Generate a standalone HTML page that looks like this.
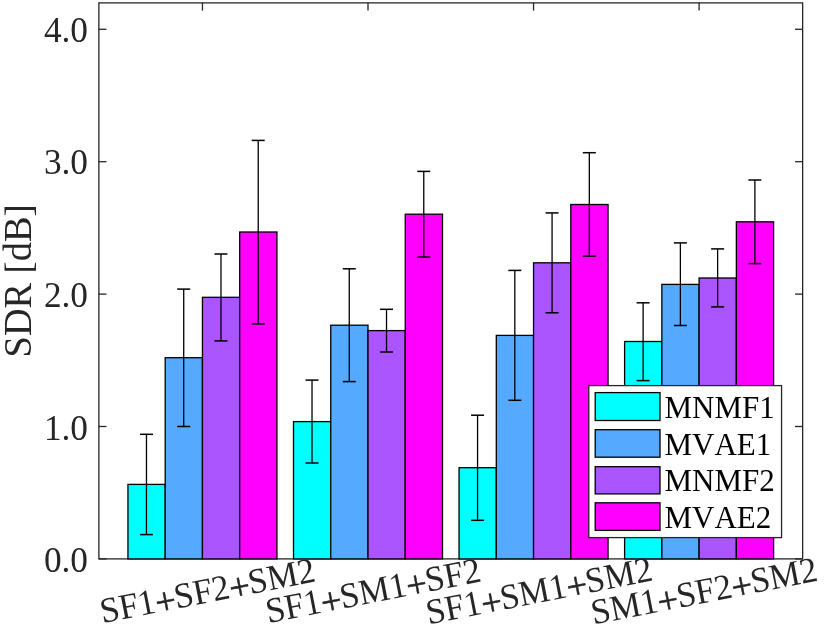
<!DOCTYPE html>
<html lang="en"><head><meta charset="utf-8"><title>SDR bar chart</title>
<style>
html,body{margin:0;padding:0;background:#fff;}
body{width:830px;height:625px;overflow:hidden;}
svg{display:block;}
text{font-family:"Liberation Serif",serif;font-kerning:none;font-variant-ligatures:none;}
.ax{stroke:#262626;stroke-width:1.3;fill:none;}
.bar{stroke:#000;stroke-width:1.3;}
.eb{stroke:#000;stroke-width:1.3;fill:none;}
.cap{stroke:#000;stroke-width:1.5;fill:none;}
.tl{fill:#262626;}
.pl{stroke:#262626;stroke-width:0.5;}
</style></head><body>
<svg width="830" height="625" viewBox="0 0 830 625">
<rect x="0" y="0" width="830" height="625" fill="#fff"/>
<g class="ax">
<rect x="98.87" y="2.88" width="703.78" height="556.02"/>
<line x1="98.87" y1="558.90" x2="106.47" y2="558.90"/>
<line x1="802.65" y1="558.90" x2="795.05" y2="558.90"/>
<line x1="98.87" y1="426.50" x2="106.47" y2="426.50"/>
<line x1="802.65" y1="426.50" x2="795.05" y2="426.50"/>
<line x1="98.87" y1="294.10" x2="106.47" y2="294.10"/>
<line x1="802.65" y1="294.10" x2="795.05" y2="294.10"/>
<line x1="98.87" y1="161.70" x2="106.47" y2="161.70"/>
<line x1="802.65" y1="161.70" x2="795.05" y2="161.70"/>
<line x1="98.87" y1="29.30" x2="106.47" y2="29.30"/>
<line x1="802.65" y1="29.30" x2="795.05" y2="29.30"/>
<line x1="202.45" y1="2.88" x2="202.45" y2="10.58"/>
<line x1="202.45" y1="558.90" x2="202.45" y2="551.30"/>
<line x1="368.00" y1="2.88" x2="368.00" y2="10.58"/>
<line x1="368.00" y1="558.90" x2="368.00" y2="551.30"/>
<line x1="533.55" y1="2.88" x2="533.55" y2="10.58"/>
<line x1="533.55" y1="558.90" x2="533.55" y2="551.30"/>
<line x1="699.10" y1="2.88" x2="699.10" y2="10.58"/>
<line x1="699.10" y1="558.90" x2="699.10" y2="551.30"/>
</g>
<g>
<rect class="bar" x="127.95" y="484.40" width="37.25" height="74.50" fill="#00FFFF"/>
<rect class="bar" x="165.20" y="357.70" width="37.25" height="201.20" fill="#55AAFF"/>
<rect class="bar" x="202.45" y="297.30" width="37.25" height="261.60" fill="#AA55FF"/>
<rect class="bar" x="239.70" y="232.00" width="37.25" height="326.90" fill="#FF00FF"/>
<rect class="bar" x="293.50" y="421.60" width="37.25" height="137.30" fill="#00FFFF"/>
<rect class="bar" x="330.75" y="325.20" width="37.25" height="233.70" fill="#55AAFF"/>
<rect class="bar" x="368.00" y="330.60" width="37.25" height="228.30" fill="#AA55FF"/>
<rect class="bar" x="405.25" y="214.20" width="37.25" height="344.70" fill="#FF00FF"/>
<rect class="bar" x="459.05" y="467.70" width="37.25" height="91.20" fill="#00FFFF"/>
<rect class="bar" x="496.30" y="335.40" width="37.25" height="223.50" fill="#55AAFF"/>
<rect class="bar" x="533.55" y="262.80" width="37.25" height="296.10" fill="#AA55FF"/>
<rect class="bar" x="570.80" y="204.50" width="37.25" height="354.40" fill="#FF00FF"/>
<rect class="bar" x="624.60" y="341.50" width="37.25" height="217.40" fill="#00FFFF"/>
<rect class="bar" x="661.85" y="284.40" width="37.25" height="274.50" fill="#55AAFF"/>
<rect class="bar" x="699.10" y="278.00" width="37.25" height="280.90" fill="#AA55FF"/>
<rect class="bar" x="736.35" y="221.80" width="37.25" height="337.10" fill="#FF00FF"/>
</g>
<g>
<line class="eb" x1="146.47" y1="434.30" x2="146.47" y2="534.60"/>
<line class="cap" x1="139.97" y1="434.30" x2="152.97" y2="434.30"/>
<line class="cap" x1="139.97" y1="534.60" x2="152.97" y2="534.60"/>
<line class="eb" x1="183.72" y1="289.10" x2="183.72" y2="426.50"/>
<line class="cap" x1="177.22" y1="289.10" x2="190.22" y2="289.10"/>
<line class="cap" x1="177.22" y1="426.50" x2="190.22" y2="426.50"/>
<line class="eb" x1="220.97" y1="254.00" x2="220.97" y2="340.90"/>
<line class="cap" x1="214.47" y1="254.00" x2="227.47" y2="254.00"/>
<line class="cap" x1="214.47" y1="340.90" x2="227.47" y2="340.90"/>
<line class="eb" x1="258.22" y1="140.40" x2="258.22" y2="323.90"/>
<line class="cap" x1="251.72" y1="140.40" x2="264.72" y2="140.40"/>
<line class="cap" x1="251.72" y1="323.90" x2="264.72" y2="323.90"/>
<line class="eb" x1="312.02" y1="380.10" x2="312.02" y2="463.00"/>
<line class="cap" x1="305.52" y1="380.10" x2="318.52" y2="380.10"/>
<line class="cap" x1="305.52" y1="463.00" x2="318.52" y2="463.00"/>
<line class="eb" x1="349.27" y1="268.80" x2="349.27" y2="381.60"/>
<line class="cap" x1="342.77" y1="268.80" x2="355.77" y2="268.80"/>
<line class="cap" x1="342.77" y1="381.60" x2="355.77" y2="381.60"/>
<line class="eb" x1="386.52" y1="309.30" x2="386.52" y2="352.00"/>
<line class="cap" x1="380.02" y1="309.30" x2="393.02" y2="309.30"/>
<line class="cap" x1="380.02" y1="352.00" x2="393.02" y2="352.00"/>
<line class="eb" x1="423.77" y1="171.40" x2="423.77" y2="257.00"/>
<line class="cap" x1="417.27" y1="171.40" x2="430.27" y2="171.40"/>
<line class="cap" x1="417.27" y1="257.00" x2="430.27" y2="257.00"/>
<line class="eb" x1="477.57" y1="415.20" x2="477.57" y2="520.30"/>
<line class="cap" x1="471.07" y1="415.20" x2="484.07" y2="415.20"/>
<line class="cap" x1="471.07" y1="520.30" x2="484.07" y2="520.30"/>
<line class="eb" x1="514.82" y1="270.40" x2="514.82" y2="400.30"/>
<line class="cap" x1="508.32" y1="270.40" x2="521.32" y2="270.40"/>
<line class="cap" x1="508.32" y1="400.30" x2="521.32" y2="400.30"/>
<line class="eb" x1="552.07" y1="212.90" x2="552.07" y2="312.80"/>
<line class="cap" x1="545.57" y1="212.90" x2="558.57" y2="212.90"/>
<line class="cap" x1="545.57" y1="312.80" x2="558.57" y2="312.80"/>
<line class="eb" x1="589.32" y1="152.70" x2="589.32" y2="256.10"/>
<line class="cap" x1="582.82" y1="152.70" x2="595.82" y2="152.70"/>
<line class="cap" x1="582.82" y1="256.10" x2="595.82" y2="256.10"/>
<line class="eb" x1="643.12" y1="302.80" x2="643.12" y2="380.60"/>
<line class="cap" x1="636.62" y1="302.80" x2="649.62" y2="302.80"/>
<line class="cap" x1="636.62" y1="380.60" x2="649.62" y2="380.60"/>
<line class="eb" x1="680.38" y1="242.90" x2="680.38" y2="325.50"/>
<line class="cap" x1="673.88" y1="242.90" x2="686.88" y2="242.90"/>
<line class="cap" x1="673.88" y1="325.50" x2="686.88" y2="325.50"/>
<line class="eb" x1="717.62" y1="248.90" x2="717.62" y2="306.90"/>
<line class="cap" x1="711.12" y1="248.90" x2="724.12" y2="248.90"/>
<line class="cap" x1="711.12" y1="306.90" x2="724.12" y2="306.90"/>
<line class="eb" x1="754.88" y1="180.00" x2="754.88" y2="263.60"/>
<line class="cap" x1="748.38" y1="180.00" x2="761.38" y2="180.00"/>
<line class="cap" x1="748.38" y1="263.60" x2="761.38" y2="263.60"/>
</g>
<g class="tl" font-size="36" text-anchor="end">
<text transform="translate(88.00 572.05) scale(0.98 1)">0.0</text>
<text transform="translate(88.00 439.50) scale(0.98 1)">1.0</text>
<text transform="translate(88.00 306.95) scale(0.98 1)">2.0</text>
<text transform="translate(88.00 174.40) scale(0.98 1)">3.0</text>
<text transform="translate(88.00 41.85) scale(0.98 1)">4.0</text>
</g>
<text class="tl" font-size="39.3" text-anchor="middle" transform="translate(30.70 280.90) rotate(-90) scale(0.974 1)">SDR <tspan font-size="37.5">[</tspan>dB<tspan font-size="37.5">]</tspan></text>
<text class="tl" font-size="36" text-anchor="middle" transform="translate(209.60 602.20) rotate(-11.1) scale(0.963 1)">SF1<tspan class="pl" font-size="38.3" dx="-0.3" dy="3.3">+</tspan><tspan dx="-1" dy="-3.3">SF2</tspan><tspan class="pl" font-size="38.3" dx="-0.3" dy="3.3">+</tspan><tspan dx="-1" dy="-3.3">SM2</tspan></text>
<text class="tl" font-size="36" text-anchor="middle" transform="translate(375.30 602.20) rotate(-11.1) scale(0.963 1)">SF1<tspan class="pl" font-size="38.3" dx="-0.3" dy="3.3">+</tspan><tspan dx="-1" dy="-3.3">SM1</tspan><tspan class="pl" font-size="38.3" dx="-0.3" dy="3.3">+</tspan><tspan dx="-1" dy="-3.3">SF2</tspan></text>
<text class="tl" font-size="36" text-anchor="middle" transform="translate(541.20 602.30) rotate(-11.1) scale(0.963 1)">SF1<tspan class="pl" font-size="38.3" dx="-0.3" dy="3.3">+</tspan><tspan dx="-1" dy="-3.3">SM1</tspan><tspan class="pl" font-size="38.3" dx="-0.3" dy="3.3">+</tspan><tspan dx="-1" dy="-3.3">SM2</tspan></text>
<text class="tl" font-size="36" text-anchor="middle" transform="translate(706.30 602.50) rotate(-11.1) scale(0.963 1)">SM1<tspan class="pl" font-size="38.3" dx="-0.3" dy="3.3">+</tspan><tspan dx="-1" dy="-3.3">SF2</tspan><tspan class="pl" font-size="38.3" dx="-0.3" dy="3.3">+</tspan><tspan dx="-1" dy="-3.3">SM2</tspan></text>
<rect x="588.80" y="385.60" width="192.75" height="152.00" fill="#fff" stroke="#262626" stroke-width="1.3"/>
<rect class="bar" x="595.20" y="392.60" width="64.80" height="27.90" fill="#00FFFF"/>
<text x="664.50" y="418.40" font-size="31" fill="#000">MNMF1</text>
<rect class="bar" x="595.20" y="429.70" width="64.80" height="27.50" fill="#55AAFF"/>
<text x="664.50" y="455.10" font-size="31" fill="#000">MVAE1</text>
<rect class="bar" x="595.20" y="466.70" width="64.80" height="27.20" fill="#AA55FF"/>
<text x="664.50" y="491.30" font-size="31" fill="#000">MNMF2</text>
<rect class="bar" x="595.20" y="502.80" width="64.80" height="27.60" fill="#FF00FF"/>
<text x="664.50" y="528.20" font-size="31" fill="#000">MVAE2</text>
</svg>
</body></html>
